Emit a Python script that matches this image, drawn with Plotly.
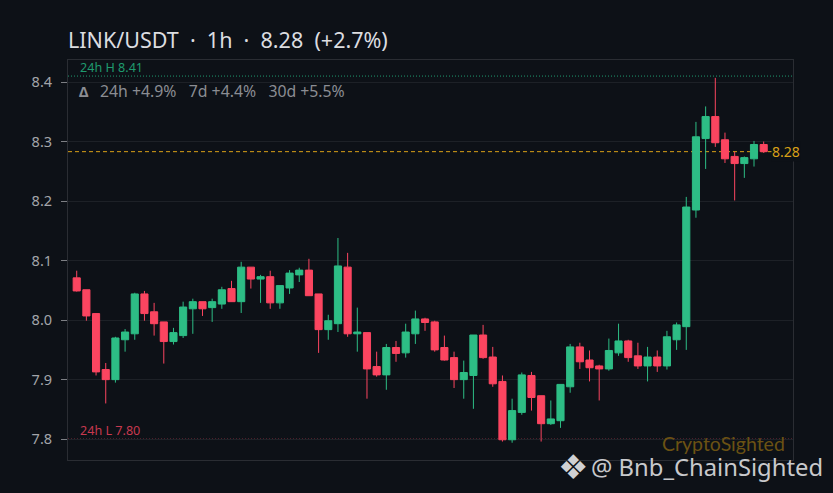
import plotly.graph_objects as go

opens = [8.071,8.051,8.011,7.917,7.900,7.967,7.977,8.044,8.014,7.997,7.964,7.974,8.019,8.031,8.021,8.027,8.053,8.031,8.089,8.069,8.073,8.029,8.054,8.076,
         8.084,8.044,7.984,7.994,8.089,7.977,7.979,7.922,7.908,7.954,7.945,7.977,8.002,7.997,7.954,7.937,7.900,7.907,7.975,7.938,7.897,7.799,7.845,7.907,
         7.873,7.826,7.831,7.888,7.955,7.933,7.923,7.918,7.945,7.965,7.940,7.923,7.938,7.923,7.967,7.989,8.185,8.305,8.342,8.303,8.275,8.263,8.271,8.295]
highs = [8.083,8.051,8.012,7.928,7.972,7.985,8.046,8.049,8.029,7.997,7.987,8.031,8.036,8.031,8.036,8.056,8.066,8.098,8.089,8.076,8.083,8.058,8.084,8.088,
         8.103,8.044,8.009,8.138,8.113,8.021,7.979,7.947,7.960,7.965,7.994,8.016,8.004,7.999,7.974,7.947,7.932,7.975,7.992,7.955,7.907,7.868,7.912,7.913,
         7.873,7.865,7.892,7.960,7.962,7.949,7.925,7.969,7.994,7.967,7.962,7.955,7.949,7.982,7.996,8.207,8.333,8.359,8.407,8.315,8.283,8.275,8.301,8.300]
lows = [8.048,7.999,7.907,7.860,7.895,7.947,7.967,7.999,7.974,7.927,7.959,7.970,7.977,8.007,7.997,8.019,8.031,8.012,8.053,8.029,8.019,8.019,8.044,8.064,
        8.041,7.945,7.967,7.980,7.972,7.947,7.868,7.905,7.883,7.930,7.937,7.960,7.982,7.947,7.932,7.886,7.868,7.851,7.935,7.888,7.796,7.794,7.841,7.848,
        7.796,7.824,7.819,7.878,7.918,7.897,7.865,7.915,7.940,7.930,7.918,7.897,7.913,7.917,7.950,7.950,8.172,8.254,8.291,8.264,8.201,8.239,8.258,8.281]
closes = [8.049,8.007,7.913,7.900,7.970,7.980,8.044,8.011,7.994,7.964,7.979,8.022,8.031,8.019,8.031,8.051,8.031,8.089,8.069,8.073,8.029,8.058,8.079,8.084,
          8.041,7.984,7.999,8.091,7.977,7.980,7.918,7.908,7.954,7.944,7.980,8.002,7.996,7.950,7.933,7.900,7.912,7.975,7.937,7.893,7.799,7.848,7.908,7.870,
          7.826,7.834,7.892,7.955,7.930,7.920,7.918,7.949,7.965,7.937,7.923,7.938,7.923,7.972,7.992,8.190,8.308,8.342,8.298,8.271,8.263,8.273,8.295,8.283]
candle_index = list(range(len(opens)))
y_ticks = [7.8, 7.9, 8.0, 8.1, 8.2, 8.3, 8.4]

day_high = 8.41
day_low = 7.80
last_price = 8.283

BG = "#0d1117"
UP = "#2dbd85"
DOWN = "#fb4560"
GOLD = "#d9a017"
GRID = "#1d2127"
FRAME = "#2a2d33"
FONT = "Noto Sans"

fig = go.Figure(go.Candlestick(
    x=candle_index, open=opens, high=highs, low=lows, close=closes,
    increasing=dict(line=dict(color=UP, width=1), fillcolor=UP),
    decreasing=dict(line=dict(color=DOWN, width=1), fillcolor=DOWN),
    whiskerwidth=0, showlegend=False, hoverinfo="skip",
))

def hline(y, color, dash, width=1):
    fig.add_shape(type="line", xref="x domain", yref="y", x0=0, x1=1, y0=y, y1=y,
                  line=dict(color=color, dash=dash, width=width), layer="below")

hline(day_high, "#1f9a6e", "1px,2px")
hline(day_low, "#c8394f", "1px,2px")
hline(last_price, "#d9a017", "4px,3px")

def note(x, y, text, size, color, xref="paper", yref="paper", anchor="left", yanchor="middle", font=FONT, **kw):
    fig.add_annotation(x=x, y=y, xref=xref, yref=yref, text=text, showarrow=False,
                       xanchor=anchor, yanchor=yanchor, font=dict(size=size, color=color, family=font), **kw)

note(0.014, day_high, "24h H 8.41", 12.6, "#1f9a6e", yref="y", yanchor="bottom", yshift=-2)
note(0.014, day_low, "24h L 7.80", 12.6, "#c8394f", yref="y", yanchor="bottom", yshift=-2)
note(0.012, 0.9225, "<b>Δ</b>", 14, "#8b8d93")
note(0.041, 0.9225, "24h +4.9%   7d +4.4%   30d +5.5%", 15.8, "#8b8d93")
note(1.0, last_price, "8.28", 14, GOLD, yref="y", anchor="center", xshift=-7, bgcolor=BG, borderpad=0)
note(0.992, 0.0425, "CryptoSighted", 19.5, "#6b5213", anchor="right", font="Lato")
note(0.6966, -0.018, "❖", 34, "#d0d1d3", anchor="center", font="DejaVu Sans")
note(0.719, -0.018, "@ Bnb_ChainSighted", 23.8, "#c8c9cc")

fig.update_layout(
    width=833, height=493, autosize=False,
    paper_bgcolor=BG, plot_bgcolor=BG,
    margin=dict(l=68, r=40, t=60, b=33),
    font=dict(family=FONT, color="#b5b7bb"),
    title=dict(text="LINK/USDT  ·  1h  ·  8.28  (+2.7%)", x=68 / 833, xanchor="left",
               y=0.917, yanchor="middle", font=dict(size=21.5, color="#dcdde0", family=FONT)),
    xaxis=dict(range=[-0.9, 74.03], showgrid=False, showticklabels=False, ticks="",
               rangeslider=dict(visible=False), showline=True, mirror=True,
               linecolor=FRAME, linewidth=1, zeroline=False, type="linear"),
    yaxis=dict(range=[7.765, 8.437], tickvals=y_ticks, ticktext=[f"{v:.1f}" for v in y_ticks],
               gridcolor=GRID, gridwidth=1, ticks="outside", ticklen=6, tickcolor="#7d7f84", tickwidth=1,
               tickfont=dict(size=14.5, color="#a3a5aa"), ticklabelstandoff=6, showline=True, mirror=True,
               linecolor=FRAME, linewidth=1, zeroline=False),
    boxgap=0.08,
    boxgroupgap=0.2,
)

fig.write_html("out.html", config={"displayModeBar": False}, post_script="document.body.style.margin='0';")
